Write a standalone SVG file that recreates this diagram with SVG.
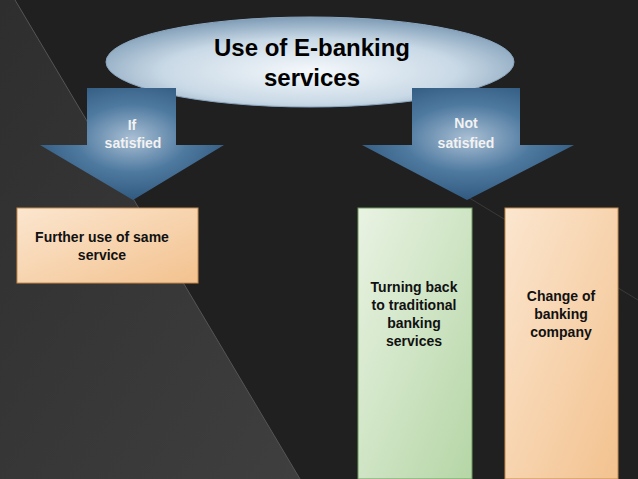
<svg xmlns="http://www.w3.org/2000/svg" width="638" height="479" viewBox="0 0 638 479">
<defs>
<linearGradient id="bgL" x1="0" y1="0" x2="1" y2="1"><stop offset="0" stop-color="#2e2e2e"/><stop offset="1" stop-color="#3f3f3f"/></linearGradient>
<radialGradient id="ell" cx="0.5" cy="0.6" r="0.6"><stop offset="0" stop-color="#f4f8fb"/><stop offset="0.6" stop-color="#c9d9e6"/><stop offset="1" stop-color="#7e9cb6"/></radialGradient>
<radialGradient id="arr" cx="0.5" cy="0.45" r="0.6"><stop offset="0" stop-color="#a9bfd4"/><stop offset="0.5" stop-color="#4f7aa0"/><stop offset="1" stop-color="#2b5379"/></radialGradient>
<linearGradient id="org" x1="0" y1="0" x2="1" y2="1"><stop offset="0" stop-color="#fbe6cf"/><stop offset="1" stop-color="#f3c28f"/></linearGradient>
<linearGradient id="grn" x1="0" y1="0" x2="1" y2="1"><stop offset="0" stop-color="#e9f3e3"/><stop offset="1" stop-color="#b5d6a6"/></linearGradient>
</defs>
<style>
.t{font-family:"Liberation Sans",Arial,sans-serif;font-weight:bold;text-anchor:middle}
.bx{font-size:14px;fill:#111}
.ar{font-size:14px;fill:#f2f2f2}
</style>
<rect width="638" height="479" fill="#202020"/>
<polygon points="0,0 15,0 300,479 0,479" fill="url(#bgL)"/>
<line x1="15" y1="0" x2="300" y2="479" stroke="#555" stroke-width="1"/>
<line x1="390" y1="150" x2="638" y2="300" stroke="#3a3a3a" stroke-width="1"/>
<g id="top">
<ellipse cx="310" cy="62" rx="204" ry="45" fill="url(#ell)" stroke="#8aa6bf" stroke-width="1"/>
<text class="t" x="312" y="56" font-size="24" fill="#000">Use of E-banking</text>
<text class="t" x="312" y="86" font-size="24" fill="#000">services</text>
</g>
<g id="connectors">
<g id="arrowLeft">
<polygon points="87,88 176,88 176,145 224,145 133,200 40,145 87,145" fill="url(#arr)"/>
<text class="t ar" x="132" y="130">If</text>
<text class="t ar" x="133" y="148">satisfied</text>
</g>
<g id="arrowRight">
<polygon points="412,88 520,88 520,145 574,145 467,200 362,145 412,145" fill="url(#arr)"/>
<text class="t ar" x="466" y="128">Not</text>
<text class="t ar" x="466" y="148">satisfied</text>
</g>
</g>
<g id="box1">
<rect x="17" y="208" width="181" height="75" fill="url(#org)" stroke="#c58a4e"/>
<text class="t bx" x="102" y="242">Further use of same</text>
<text class="t bx" x="102" y="260">service</text>
</g>
<g id="box2">
<rect x="358" y="208" width="114" height="271" fill="url(#grn)" stroke="#6e9a5e"/>
<text class="t bx" x="414" y="292">Turning back</text>
<text class="t bx" x="414" y="310">to traditional</text>
<text class="t bx" x="414" y="328">banking</text>
<text class="t bx" x="414" y="346">services</text>
</g>
<g id="box3">
<rect x="505" y="208" width="113" height="271" fill="url(#org)" stroke="#c58a4e"/>
<text class="t bx" x="561" y="301">Change of</text>
<text class="t bx" x="561" y="319">banking</text>
<text class="t bx" x="561" y="337">company</text>
</g>
</svg>
